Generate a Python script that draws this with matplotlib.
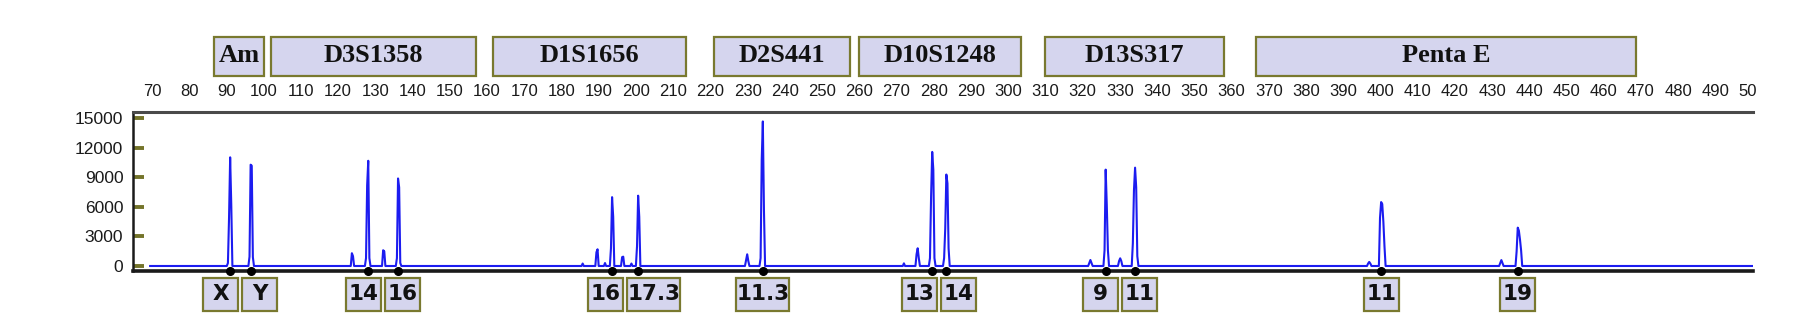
import numpy as np
import matplotlib
matplotlib.use("Agg")
import matplotlib.pyplot as plt
from matplotlib.patches import Rectangle
from matplotlib.transforms import blended_transform_factory, Bbox

# ---------------- data ----------------
loci = ["Am", "D3S1358", "D1S1656", "D2S441", "D10S1248", "D13S317", "Penta E"]
locus_start = [86.7, 102.0, 161.6, 221.0, 260.0, 309.9, 366.6]
locus_end = [100.1, 157.0, 213.5, 257.6, 303.5, 358.0, 468.7]

allele_labels = ["X", "Y", "14", "16", "16", "17.3", "11.3", "13", "14", "9", "11", "11", "19"]
allele_bp = [91.0, 96.5, 128.1, 136.1, 193.6, 200.6, 234.1, 279.6, 283.4, 326.2, 334.1, 400.2, 436.9]
allele_profiles = [
    [300, 4900, 11050, 6200],
    [950, 10300, 10200, 900],
    [800, 8200, 10700, 800],
    [800, 8900, 8000, 300],
    [1800, 7000, 5000],
    [2000, 7150, 5000],
    [800, 10800, 14700, 5700],
    [800, 7100, 11600, 9800, 800],
    [800, 3800, 9300, 8400, 1800],
    [1600, 9800, 6200, 1600],
    [2300, 7700, 10000, 8000, 1000],
    [4900, 6500, 6300, 4500, 2000],
    [1500, 3900, 3600, 2700, 1600],
]

minor_bp = [123.7, 132.1, 185.7, 189.7, 191.7, 196.6, 198.8, 229.9, 272.0, 275.7,
            322.1, 330.1, 397.0, 432.5]
minor_profiles = [
    [1300, 1000],
    [1600, 1500],
    [250],
    [1400, 1700],
    [300],
    [900, 950],
    [250],
    [600, 1190, 500],
    [270],
    [1200, 1800, 800],
    [300, 610, 300],
    [500, 780, 500],
    [250, 410, 250],
    [300, 600, 300],
]

trace_start, trace_end = 69.5, 500.0
x_ticks = list(range(70, 501, 10))
y_ticks = [0, 3000, 6000, 9000, 12000, 15000]

# ---------------- figure ----------------
W, H = 1794, 322
fig = plt.figure(figsize=(W / 100, H / 100), dpi=100)
fig.patch.set_facecolor("white")
ax = fig.add_axes([133 / W, (H - 271) / H, 1620 / W, 159 / H])
ax.set_xlim(64.9, 500.1)
ax.set_ylim(-510, 15660)

# build trace from sampled peak profiles
STEP = 0.3
xs, ys = [trace_start], [0]
for c, prof in sorted(zip(allele_bp + minor_bp, allele_profiles + minor_profiles)):
    p = [0] + list(prof) + [0]
    k = int(np.argmax(p))
    for i, h in enumerate(p):
        xs.append(c + (i - k) * STEP)
        ys.append(h)
xs.append(trace_end)
ys.append(0)
ax.plot(xs, ys, color="#1c1cf0", lw=1.5, zorder=3)

# spines
ax.spines["right"].set_visible(False)
ax.spines["top"].set_color("#4a4a4a")
ax.spines["top"].set_linewidth(2.2)
ax.spines["left"].set_color("#1a1a1a")
ax.spines["left"].set_linewidth(1.8)
ax.spines["bottom"].set_color("#1a1a1a")
ax.spines["bottom"].set_linewidth(2.6)

# y ticks
ax.set_yticks(y_ticks)
ax.set_yticklabels([str(v) for v in y_ticks], fontsize=12.5,
                   family=["Liberation Sans", "DejaVu Sans"], color="#1a1a1a")
ax.tick_params(axis="y", direction="in", length=8, width=2.8, color="#74742a", pad=7)
ax.set_xticks([])

# top size labels
tb = blended_transform_factory(ax.transData, fig.transFigure)
clip = Bbox([[0, 0], [1756, H]])
for v in x_ticks:
    t = fig.text(0, 0, str(v), transform=tb, fontsize=12,
                 family=["Liberation Sans Narrow", "Liberation Sans", "DejaVu Sans"],
                 ha="center", va="center", color="#1a1a1a")
    t.set_position((v, (H - 92) / H))
    t.set_clip_box(clip)
    t.set_clip_on(True)

# locus boxes
face = "#d5d5ee"
edge = "#79792f"
for name, s, e in zip(loci, locus_start, locus_end):
    r = Rectangle((s, (H - 76) / H), e - s, 39 / H, transform=tb, facecolor=face,
                  edgecolor=edge, lw=1.6, clip_on=False)
    fig.add_artist(r)
    fig.text((s + e) / 2, (H - 56) / H, name, transform=tb, ha="center", va="center",
             fontsize=19, fontweight="bold",
             family=["Liberation Serif", "DejaVu Serif"], color="#111111")

# allele dots on the baseline
bt = blended_transform_factory(ax.transData, ax.transAxes)
ax.plot(allele_bp, [0] * len(allele_bp), "o", color="black", ms=5.5,
        transform=bt, clip_on=False, zorder=6)

# allele label boxes (layout in pixels)
px = [ax.transData.transform((b, 0))[0] for b in allele_bp]
widths = [53 if len(l) > 2 else 35 for l in allele_labels]
lefts = [p - w / 2 for p, w in zip(px, widths)]
for i in range(1, len(px)):
    if lefts[i] < lefts[i - 1] + widths[i - 1] + 4:
        mid = (px[i - 1] + px[i]) / 2
        lefts[i - 1] = mid - 2 - widths[i - 1]
        lefts[i] = mid + 2
for lab, l, w in zip(allele_labels, lefts, widths):
    r = Rectangle((l / W, 11 / H), w / W, 33 / H, transform=fig.transFigure,
                  facecolor=face, edgecolor=edge, lw=1.6)
    fig.add_artist(r)
    fig.text((l + w / 2) / W, 27.5 / H, lab, ha="center", va="center",
             fontsize=15.5, fontweight="bold", family=["DejaVu Sans"], color="#111111")

fig.savefig("out.png", dpi=100, facecolor="white")
